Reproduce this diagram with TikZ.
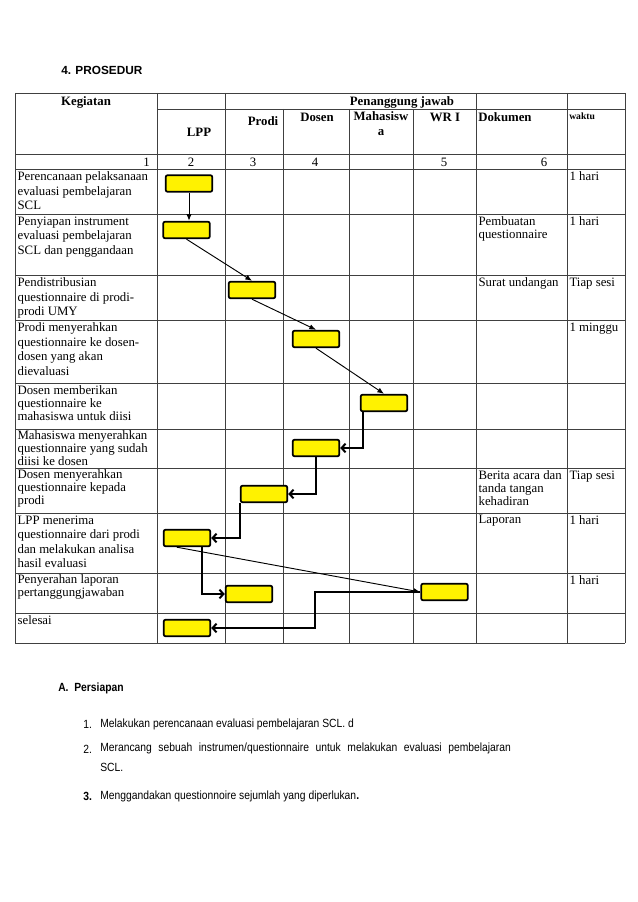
\documentclass[tikz,border=0pt]{standalone}
\usepackage{fontspec}
\setmainfont{Liberation Serif}
\setsansfont{Liberation Sans}
\newfontfamily\arialsempit[FakeStretch=0.87]{Liberation Sans}
\usetikzlibrary{arrows.meta}

\tikzset{
  kotak/.style={draw, line width=1.3pt, fill=yellow, rounded corners=1.5pt,
    minimum width=35pt, minimum height=12.5pt, inner sep=0pt},
  garis/.style={draw=black!75, line width=0.6pt},
  panahtipis/.style={-{Latex[length=5pt,width=4pt]}, line width=0.7pt},
  panahtebal/.style={-{Straight Barb[length=3pt,width=6.5pt]}, line width=1.5pt},
  isi/.style={anchor=north west, inner sep=1pt, align=left,
    font=\fontsize{9.6}{10.9}\selectfont},
  rapat/.style={isi, font=\fontsize{9.6}{9.9}\selectfont},
  kepala/.style={inner sep=0.75pt, align=center, font=\fontsize{9.6}{11.5}\selectfont\bfseries},
  angka/.style={inner sep=0.75pt, font=\fontsize{9.6}{10.9}\selectfont},
  arial/.style={inner sep=0.75pt, font=\fontsize{8.9}{10}\arialsempit}
}

\begin{document}
\begin{tikzpicture}[x=0.75pt,y=0.75pt,yscale=-1,xscale=1]
\useasboundingbox (0,0) rectangle (638,902);

% Title
\node (judul) [anchor=west, inner sep=0.75pt, font=\fontsize{8.85}{10}\sffamily\bfseries] at (60,70) {4. PROSEDUR};

%Table: horizontal lines
\draw [garis] (15,93) -- (625,93) ;
\draw [garis] (157,109) -- (625,109) ;
\draw [garis] (15,154) -- (625,154) ;
\draw [garis] (15,169) -- (625,169) ;
\draw [garis] (15,214) -- (625,214) ;
\draw [garis] (15,275) -- (625,275) ;
\draw [garis] (15,320) -- (625,320) ;
\draw [garis] (15,383) -- (625,383) ;
\draw [garis] (15,429) -- (625,429) ;
\draw [garis] (15,468) -- (625,468) ;
\draw [garis] (15,513) -- (625,513) ;
\draw [garis] (15,573) -- (625,573) ;
\draw [garis] (15,613) -- (625,613) ;
\draw [garis] (15,643) -- (625,643) ;
%Table: vertical lines
\draw [garis] (15,93) -- (15,643) ;
\draw [garis] (157,93) -- (157,643) ;
\draw [garis] (225,93) -- (225,643) ;
\draw [garis] (283,109) -- (283,643) ;
\draw [garis] (349,109) -- (349,643) ;
\draw [garis] (413,109) -- (413,643) ;
\draw [garis] (476,93) -- (476,643) ;
\draw [garis] (567,93) -- (567,643) ;
\draw [garis] (625,93) -- (625,643) ;

% Header
\node (hkeg) [kepala] at (86,102) {Kegiatan};
\node (hpj) [kepala] at (402,102) {Penanggung jawab};
\node (hlpp) [kepala] at (199,132) {LPP};
\node (hprodi) [kepala] at (263,121) {Prodi};
\node (hdosen) [kepala] at (317,117) {Dosen};
\node (hmhs) [kepala, anchor=north] at (381,110) {Mahasisw\\a};
\node (hwr) [kepala] at (445,117) {WR I};
\node (hdok) [kepala, anchor=west] at (477,117) {Dokumen};
\node (hwkt) [kepala, anchor=west, font=\fontsize{7.2}{8}\selectfont\bfseries] at (568,116) {waktu};

% Number row
\node (n1) [angka, anchor=east] at (151,162) {1};
\node (n2) [angka] at (191,162) {2};
\node (n3) [angka] at (253,162) {3};
\node (n4) [angka] at (315,162) {4};
\node (n5) [angka] at (444,162) {5};
\node (n6) [angka] at (544,162) {6};

% Kegiatan column
\node (keg1) [isi] at (16,170) {Perencanaan pelaksanaan\\evaluasi pembelajaran\\SCL};
\node (keg2) [isi] at (16,215) {Penyiapan instrument\\evaluasi pembelajaran\\SCL dan penggandaan};
\node (keg3) [isi] at (16,276) {Pendistribusian\\questionnaire di prodi-\\prodi UMY};
\node (keg4) [isi] at (16,321) {Prodi menyerahkan\\questionnaire ke dosen-\\dosen yang akan\\dievaluasi};
\node (keg5) [rapat] at (16,384) {Dosen memberikan\\questionnaire ke\\mahasiswa untuk diisi};
\node (keg6) [rapat] at (16,429) {Mahasiswa menyerahkan\\questionnaire yang sudah\\diisi ke dosen};
\node (keg7) [rapat] at (16,468) {Dosen menyerahkan\\questionnaire kepada\\prodi};
\node (keg8) [isi] at (16,514) {LPP menerima\\questionnaire dari prodi\\dan melakukan analisa\\hasil evaluasi};
\node (keg9) [rapat] at (16,573) {Penyerahan laporan\\pertanggungjawaban};
\node (keg10) [isi] at (16,614) {selesai};

% Dokumen column
\node (dok2) [rapat] at (477,215) {Pembuatan\\questionnaire};
\node (dok3) [isi] at (477,276) {Surat undangan};
\node (dok7) [rapat] at (477,469) {Berita acara dan\\tanda tangan\\kehadiran};
\node (dok8) [isi] at (477,514) {Laporan};

% waktu column
\node (wkt1) [isi] at (568,170) {1 hari};
\node (wkt2) [isi] at (568,215) {1 hari};
\node (wkt3) [isi] at (568,276) {Tiap sesi};
\node (wkt4) [isi] at (568,321) {1 minggu};
\node (wkt7) [isi] at (568,469) {Tiap sesi};
\node (wkt8) [isi] at (568,514) {1 hari};
\node (wkt9) [isi] at (568,574) {1 hari};

% Flow boxes
\node (b1) [kotak] at (189,183.5) {};
\node (b2) [kotak] at (186.5,230) {};
\node (b3) [kotak] at (252,290) {};
\node (b4) [kotak] at (316,339) {};
\node (b5) [kotak] at (384,403) {};
\node (b6) [kotak] at (316,448) {};
\node (b7) [kotak] at (264,494) {};
\node (b8) [kotak] at (187,538) {};
\node (b9) [kotak] at (249,594) {};
\node (b10) [kotak] at (444.5,592) {};
\node (b11) [kotak] at (187,628) {};

% Connectors
\draw [panahtipis] (b1.south) -- (b1.south |- b2.north) ;
\draw [panahtipis] (b2.south) -- (b3.north) ;
\draw [panahtipis] (b3.south) -- (b4.north) ;
\draw [panahtipis] (b4.south) -- (b5.north) ;
\draw [panahtebal] (b5.south west) ++(3,0) |- (b6.east) ;
\draw [panahtebal] (b6.south) |- (b7.east) ;
\draw [panahtebal] (b7.south west) |- (b8.east) ;
\draw [panahtebal] (b8.south east) ++(-9,0) |- (b9.west) ;
\draw [panahtipis] (b8.south west) ++(14,0) -- (b10.west) ;
\draw [panahtebal] (b10.west) -- ++(-105,0) |- (b11.east) ;

% Persiapan
\node (persiapan) [arial, anchor=west, font=\fontsize{8.9}{10}\arialsempit\bfseries] at (57,688) {A.\ \ Persiapan};
\node (no1) [arial, anchor=west] at (82,724) {1.};
\node (item1) [arial, anchor=west] at (99,724) {Melakukan perencanaan evaluasi pembelajaran SCL. d};
\node (no2) [arial, anchor=west] at (82,749) {2.};
\node (item2) [arial, anchor=north west, text width=308pt, align=justify, font=\fontsize{8.9}{15}\arialsempit] at (99,742) {Merancang sebuah instrumen/questionnaire untuk melakukan evaluasi pembelajaran\linebreak SCL.};
\node (no3) [arial, anchor=west, font=\fontsize{8.9}{10}\arialsempit\bfseries] at (82,796) {3.};
\node (item3) [arial, anchor=west] at (99,796) {Menggandakan questionnoire sejumlah yang diperlukan\textbf{.}};

\end{tikzpicture}
\end{document}
